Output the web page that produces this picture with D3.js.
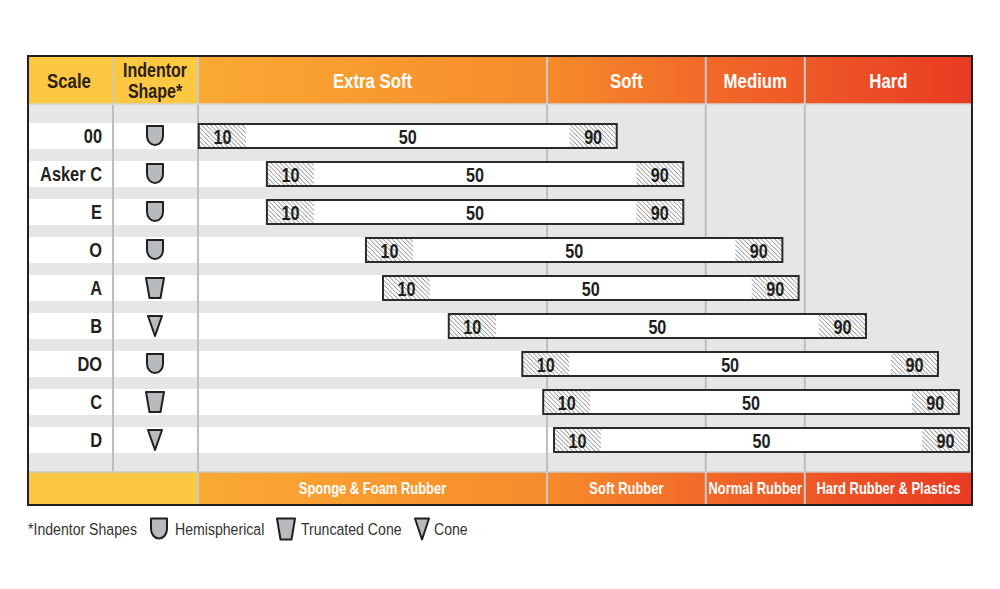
<!DOCTYPE html>
<html>
<head>
<meta charset="utf-8">
<script src="https://cdn.jsdelivr.net/npm/d3@7"></script>
<style>
  body { margin: 0; background: #fff; }
  svg { display: block; }
</style>
</head>
<body>
<div id="chart"></div>
<script>
// Durometer scales, one row each
const scales = ["00", "Asker C", "E", "O", "A", "B", "DO", "C", "D"];
const shapes = ["hemi", "hemi", "hemi", "hemi", "trunc", "cone", "hemi", "trunc", "cone"];
// bar extents on a shared 0-100 relative hardness axis
const barStart = [0.1, 8.9, 8.9, 21.7, 23.9, 32.4, 41.9, 44.6, 46.0];
const barEnd = [54.1, 62.7, 62.7, 75.5, 77.6, 86.3, 95.6, 98.3, 99.6];
const barLabels = ["10", "50", "90"];
const zones = ["Extra Soft", "Soft", "Medium", "Hard"];
const zoneMaterials = ["Sponge & Foam Rubber", "Soft Rubber", "Normal Rubber", "Hard Rubber & Plastics"];
const zoneBounds = [0, 45.1, 65.6, 78.4, 100];
const legendNames = ["Hemispherical", "Truncated Cone", "Cone"];
const legendShapes = ["hemi", "trunc", "cone"];

const width = 1000, height = 589;
const font = "'Liberation Sans', Arial, sans-serif";
const narrowB = 0.8, narrowR = 0.82; // squeeze to mimic a condensed face
const tLeft = 28, tRight = 972, tTop = 56, headerH = 48, bodyBottom = 472, tBottom = 505;
const col1 = 113, col2 = 198;

const svg = d3.select("#chart").append("svg")
  .attr("width", width).attr("height", height)
  .style("font-family", font);

const defs = svg.append("defs");

const grad = defs.append("linearGradient")
  .attr("id", "zone-grad")
  .attr("gradientUnits", "userSpaceOnUse")
  .attr("x1", col2).attr("x2", tRight).attr("y1", 0).attr("y2", 0);
[["0%", "#faa934"], ["45%", "#f68b2b"], ["66%", "#f16929"], ["78%", "#ef5927"], ["100%", "#e93b23"]]
  .forEach(([o, c]) => grad.append("stop").attr("offset", o).attr("stop-color", c));

const hatch = defs.append("pattern")
  .attr("id", "hatch")
  .attr("patternUnits", "userSpaceOnUse")
  .attr("width", 4.5).attr("height", 4.5);
hatch.append("rect").attr("width", 4.5).attr("height", 4.5).attr("fill", "#fff");
hatch.append("path")
  .attr("d", "M-1,-1L5.5,5.5M-1,3.5L1,5.5M3.5,-1L5.5,1")
  .attr("stroke", "#666").attr("stroke-width", 0.8);

const x = d3.scaleLinear().domain([0, 100]).range([col2, tRight]);
const y = d3.scaleBand().domain(scales).range([117, 459])
  .paddingInner(12 / 38).paddingOuter(6 / 38);

const shapePath = {
  hemi: "M-8,-10H8V0A8,9 0 0 1 -8,0Z",
  trunc: "M-9,-10H9L5.5,10H-5.5Z",
  cone: "M-7,-10H7L0,10Z"
};

// condensed text placed at (px, py)
function squeeze(sel, px, py, sx) {
  return sel.attr("x", 0).attr("y", 0)
    .attr("transform", (d, i) => {
      const a = typeof px === "function" ? px(d, i) : px;
      const b = typeof py === "function" ? py(d, i) : py;
      return `translate(${a},${b}) scale(${sx},1)`;
    });
}

// body background
svg.append("rect")
  .attr("x", tLeft).attr("y", tTop + headerH)
  .attr("width", tRight - tLeft).attr("height", bodyBottom - tTop - headerH)
  .attr("fill", "#e6e6e7");

const rows = scales.map((s, i) => ({ scale: s, shape: shapes[i], start: barStart[i], end: barEnd[i] }));

// white row bands up to the bar start
svg.selectAll(".band").data(rows).enter().append("rect")
  .attr("class", "band")
  .attr("x", tLeft)
  .attr("y", d => y(d.scale))
  .attr("width", d => x(d.start) - tLeft)
  .attr("height", y.bandwidth())
  .attr("fill", "#fff");

// column lines
const colLines = [col1, col2].concat(zoneBounds.slice(1, -1).map(x));
svg.selectAll(".col-line").data(colLines).enter().append("line")
  .attr("class", "col-line")
  .attr("x1", d => d).attr("x2", d => d)
  .attr("y1", tTop).attr("y2", tBottom)
  .attr("stroke", "#bdbec0").attr("stroke-width", 2);

// scale labels
squeeze(svg.selectAll(".scale-label").data(rows).enter().append("text"),
    102, d => y(d.scale) + y.bandwidth() / 2, narrowB)
  .attr("dy", "0.36em")
  .attr("text-anchor", "end")
  .attr("font-size", 20.5).attr("font-weight", "bold")
  .attr("fill", "#231f20")
  .text(d => d.scale);

// indentor icons
svg.selectAll(".icon").data(rows).enter().append("path")
  .attr("transform", d => `translate(155,${y(d.scale) + y.bandwidth() / 2})`)
  .attr("d", d => shapePath[d.shape])
  .attr("fill", "#b9babd").attr("stroke", "#231f20")
  .attr("stroke-width", 2).attr("stroke-linejoin", "round");

// bars
const bars = svg.selectAll(".bar").data(rows).enter().append("g").attr("class", "bar");
const hatchFrac = 0.113;
bars.append("rect")
  .attr("x", d => x(d.start)).attr("y", d => y(d.scale) + 1)
  .attr("width", d => x(d.end) - x(d.start)).attr("height", y.bandwidth() - 2)
  .attr("fill", "#fff");
bars.append("rect")
  .attr("x", d => x(d.start)).attr("y", d => y(d.scale) + 1)
  .attr("width", d => (x(d.end) - x(d.start)) * hatchFrac).attr("height", y.bandwidth() - 2)
  .attr("fill", "url(#hatch)");
bars.append("rect")
  .attr("x", d => x(d.end) - (x(d.end) - x(d.start)) * hatchFrac).attr("y", d => y(d.scale) + 1)
  .attr("width", d => (x(d.end) - x(d.start)) * hatchFrac).attr("height", y.bandwidth() - 2)
  .attr("fill", "url(#hatch)");
bars.append("rect")
  .attr("x", d => x(d.start)).attr("y", d => y(d.scale) + 1)
  .attr("width", d => x(d.end) - x(d.start)).attr("height", y.bandwidth() - 2)
  .attr("fill", "none").attr("stroke", "#2b2b2b").attr("stroke-width", 2);

const labelPos = [hatchFrac / 2, 0.5, 1 - hatchFrac / 2];
barLabels.forEach((lab, k) => {
  squeeze(bars.append("text"),
      d => x(d.start) + (x(d.end) - x(d.start)) * labelPos[k],
      d => y(d.scale) + y.bandwidth() / 2, 0.77)
    .attr("dy", "0.36em")
    .attr("text-anchor", "middle")
    .attr("font-size", 21).attr("font-weight", "bold")
    .attr("fill", "#1e1e1e")
    .text(lab);
});

// header
svg.append("rect").attr("x", tLeft).attr("y", tTop).attr("width", col2 - tLeft).attr("height", headerH).attr("fill", "#fcc841");
svg.append("rect").attr("x", col2).attr("y", tTop).attr("width", tRight - col2).attr("height", headerH).attr("fill", "url(#zone-grad)");
// footer
svg.append("rect").attr("x", tLeft).attr("y", bodyBottom).attr("width", col2 - tLeft).attr("height", tBottom - bodyBottom).attr("fill", "#fcc841");
svg.append("rect").attr("x", col2).attr("y", bodyBottom).attr("width", tRight - col2).attr("height", tBottom - bodyBottom).attr("fill", "url(#zone-grad)");

// separators in header and footer
svg.append("line").attr("x1", col1).attr("x2", col1).attr("y1", tTop).attr("y2", tTop + headerH)
  .attr("stroke", "#d9c9a0").attr("stroke-width", 2);
svg.selectAll(".hf-line").data([col2].concat(zoneBounds.slice(1, -1).map(x))).enter().append("g")
  .each(function (d) {
    const g = d3.select(this);
    g.append("line").attr("x1", d).attr("x2", d).attr("y1", tTop).attr("y2", tTop + headerH);
    g.append("line").attr("x1", d).attr("x2", d).attr("y1", bodyBottom).attr("y2", tBottom);
  })
  .selectAll("line").attr("stroke", "#c9c9c9").attr("stroke-width", 2);
svg.append("line").attr("x1", tLeft).attr("x2", tRight).attr("y1", tTop + headerH).attr("y2", tTop + headerH)
  .attr("stroke", "#d3d3d4").attr("stroke-width", 1.5);
svg.append("line").attr("x1", tLeft).attr("x2", tRight).attr("y1", bodyBottom).attr("y2", bodyBottom)
  .attr("stroke", "#c9c9ca").attr("stroke-width", 1.5);

squeeze(svg.append("text"), 69, tTop + headerH / 2, narrowB).attr("dy", "0.36em")
  .attr("text-anchor", "middle").attr("font-size", 21).attr("font-weight", "bold").attr("fill", "#2b2118")
  .text("Scale");
squeeze(svg.append("text"), 155, 77, narrowB)
  .attr("text-anchor", "middle").attr("font-size", 20).attr("font-weight", "bold").attr("fill", "#2b2118")
  .text("Indentor");
squeeze(svg.append("text"), 155, 98, narrowB)
  .attr("text-anchor", "middle").attr("font-size", 20).attr("font-weight", "bold").attr("fill", "#2b2118")
  .text("Shape*");

const zoneData = zones.map((z, i) => ({ name: z, material: zoneMaterials[i], a: zoneBounds[i], b: zoneBounds[i + 1] }));
squeeze(svg.selectAll(".zone-label").data(zoneData).enter().append("text"),
    d => (x(d.a) + x(d.b)) / 2, tTop + headerH / 2, narrowB)
  .attr("dy", "0.36em")
  .attr("text-anchor", "middle").attr("font-size", 21).attr("font-weight", "bold").attr("fill", "#fff")
  .text(d => d.name);
squeeze(svg.selectAll(".mat-label").data(zoneData).enter().append("text"),
    d => (x(d.a) + x(d.b)) / 2, (bodyBottom + tBottom) / 2, narrowB)
  .attr("dy", "0.36em")
  .attr("text-anchor", "middle").attr("font-size", 16.2).attr("font-weight", "bold").attr("fill", "#fff")
  .text(d => d.material);

// frame
svg.append("rect")
  .attr("x", tLeft).attr("y", tTop).attr("width", tRight - tLeft).attr("height", tBottom - tTop)
  .attr("fill", "none").attr("stroke", "#231f20").attr("stroke-width", 2);

// legend
const legY = 529;
squeeze(svg.append("text"), 28, legY, narrowR).attr("dy", "0.36em")
  .attr("font-size", 17.2).attr("fill", "#333").text("*Indentor Shapes");
const legIconX = [159, 286, 422];
const legTextX = [175, 301, 434];
legendShapes.forEach((s, i) => {
  svg.append("path")
    .attr("transform", `translate(${legIconX[i]},${legY}) scale(1.0,1.05)`)
    .attr("d", shapePath[s])
    .attr("fill", "#b9babd").attr("stroke", "#231f20")
    .attr("stroke-width", 2).attr("stroke-linejoin", "round");
  squeeze(svg.append("text"), legTextX[i], legY, narrowR).attr("dy", "0.36em")
    .attr("font-size", 17.2).attr("fill", "#333").text(legendNames[i]);
});
</script>
</body>
</html>
